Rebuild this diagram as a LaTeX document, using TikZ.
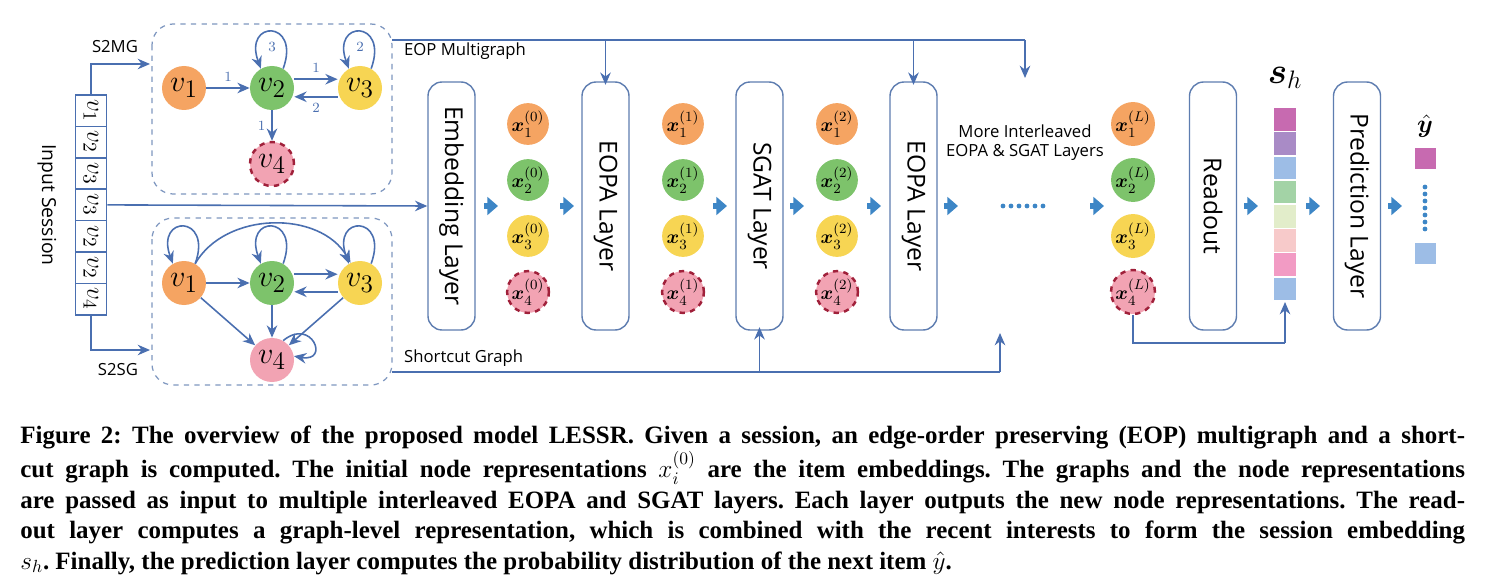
\documentclass[tikz,border=0pt]{standalone}
\usepackage{fontspec}
\usepackage{amsmath,bm}
\newfontfamily\lab{Open Sans}
\newfontfamily\capf{Liberation Serif}
\usetikzlibrary{arrows.meta,shapes.geometric}
\definecolor{cor}{HTML}{F5A462}
\definecolor{cgr}{HTML}{7DC36B}
\definecolor{cye}{HTML}{F7D553}
\definecolor{cpk}{HTML}{F2A3B3}
\definecolor{cdr}{HTML}{A0203A}
\definecolor{ln}{HTML}{4A6FB0}
\definecolor{fat}{HTML}{3D86C6}
\definecolor{bx}{HTML}{5E7DB0}
\definecolor{py}{HTML}{C76AB0}
\definecolor{by}{HTML}{9DBDE6}
\tikzset{
 vn/.style={circle,minimum size=44*0.02cm,inner sep=0pt,font=\fontsize{19}{19}\selectfont},
 xn/.style={circle,minimum size=41*0.02cm,inner sep=0pt,font=\fontsize{11}{11}\selectfont},
 redd/.style={draw=cdr,dashed,line width=1.4pt},
 ed/.style={draw=ln,line width=0.9pt,-{Stealth[length=7pt,width=6pt]}},
 ln/.style={draw=ln,line width=0.9pt},
 lay/.style={draw=bx,rounded corners=8pt,line width=0.8pt,minimum width=47*0.02cm,minimum height=248*0.02cm},
 laytxt/.style={rotate=-90,font=\lab\fontsize{14}{16}\selectfont},
 fa/.style={draw=fat,line width=3.2pt,-{Triangle[length=6pt,width=10pt]}},
 gbox/.style={draw=bx!80,dashed,rounded corners=12pt,line width=0.7pt},
 sm/.style={font=\lab\fontsize{9.5}{11}\selectfont},
 el/.style={font=\fontsize{8}{8}\selectfont,text=ln},
 cell/.style={draw=ln,line width=0.9pt,minimum width=31*0.02cm,minimum height=31.4*0.02cm,inner sep=0pt},
}
\begin{document}
\begin{tikzpicture}[x=0.02cm,y=-0.02cm]
\useasboundingbox[fill=white] (0,0) rectangle (1485,588);
% boxes
\draw[gbox] (152,24) rectangle (392,194);
\draw[gbox] (152,218) rectangle (392,385);
% input session
\foreach \t [count=\i] in {1,2,3,3,2,2,4}{
 \node[cell] (c\i) at (91,95+31.4*\i-15.7) {\rotatebox{-90}{\fontsize{15.5}{15.5}\selectfont$v_{\t}$}};
}
\node[sm,rotate=-90,font=\lab\fontsize{11}{12}\selectfont] (ins) at (47,205) {Input Session};
\coordinate (mg) at (150,64);
\coordinate (sg) at (150,350);
\draw[ed] (c1.north) |- (mg);
\draw[ed] (c7.south) |- (sg);
\node[sm] (s2mg) at (115,47) {S2MG};
\node[sm] (s2sg) at (118,370) {S2SG};
% top graph
\node[vn,fill=cor] (a1) at (184,88) {$v_1$};
\node[vn,fill=cgr] (a2) at (272,88) {$v_2$};
\node[vn,fill=cye] (a3) at (360,88) {$v_3$};
\node[vn,fill=cpk,redd] (a4) at (272,164) {$v_4$};
\draw[ed] (a1) -- node[el,above]{1} (a2);
\draw[ed] ([yshift=5]a2.east) -- node[el,above]{1} ([yshift=5]a3.west);
\draw[ed] ([yshift=-5]a3.west) -- node[el,below]{2} ([yshift=-5]a2.east);
\draw[ed] (a2) -- node[el,left]{1} (a4);
\draw[ed] (a2.60) to[out=70,in=110,looseness=6] node[el,below=2pt]{3} (a2.120);
\draw[ed] (a3.60) to[out=70,in=110,looseness=6] node[el,below=2pt]{2} (a3.120);
% bottom graph
\node[vn,fill=cor] (b1) at (184,283) {$v_1$};
\node[vn,fill=cgr] (b2) at (272,283) {$v_2$};
\node[vn,fill=cye] (b3) at (360,283) {$v_3$};
\node[vn,fill=cpk] (b4) at (272,360) {$v_4$};
\draw[ed] (b1) -- (b2);
\draw[ed] ([yshift=5]b2.east) -- ([yshift=5]b3.west);
\draw[ed] ([yshift=-5]b3.west) -- ([yshift=-5]b2.east);
\draw[ed] (b2) -- (b4);
\draw[ed] (b1) -- (b4);
\draw[ed] (b3) -- (b4);
\draw[ed] (b1.60) to[out=60,in=120,looseness=1] (b3.115);
\draw[ed] (b1.60) to[out=70,in=110,looseness=6] (b1.120);
\draw[ed] (b2.60) to[out=70,in=110,looseness=6] (b2.120);
\draw[ed] (b3.60) to[out=70,in=110,looseness=6] (b3.120);
\draw[ed] (b4.60) to[out=40,in=-10,looseness=5] (b4.10);
% layers
\node[lay] (emb) at (451.5,206) {}; \node[laytxt] at (emb) {Embedding Layer};
\node[lay] (eo1) at (605.5,206) {}; \node[laytxt] at (eo1) {EOPA Layer};
\node[lay] (sga) at (759.5,206) {}; \node[laytxt] at (sga) {SGAT Layer};
\node[lay] (eo2) at (913.5,206) {}; \node[laytxt] at (eo2) {EOPA Layer};
\node[lay] (rd) at (1213,206) {}; \node[laytxt] at (rd) {Readout};
\node[lay] (pr) at (1357,206) {}; \node[laytxt] at (pr) {Prediction Layer};
\draw[ed] (c4.east) -- (emb.west);
% EOP multigraph line
\node[sm,anchor=west] (eopl) at (398,51) {EOP Multigraph};
\node[sm,anchor=west] (scl) at (398,358) {Shortcut Graph};
\coordinate (t0) at (392,40); \coordinate (t1) at (1025,40);
\coordinate (tm) at (1025,78);
\draw[ln] (t0) -- (t1);
\draw[ed] (t1) -- (tm);
\draw[ed] (eo1.north |- t0) -- ([yshift=-2]eo1.north);
\draw[ed] (eo2.north |- t0) -- ([yshift=-2]eo2.north);
\coordinate (u0) at (392,372); \coordinate (u1) at (1000,372);
\coordinate (um) at (1000,333);
\draw[ln] (u0) -- (u1);
\draw[ed] (u1) -- (um);
\draw[ed] (sga.south |- u0) -- ([yshift=2]sga.south);
% circles
\foreach \cx/\sup/\nm in {528/0/p,683/1/q,837/2/r,1133/L/s}{
 \node[xn,fill=cor] (\nm1) at (\cx,124) {$\bm{x}_1^{(\sup)}$};
 \node[xn,fill=cgr] (\nm2) at (\cx,180) {$\bm{x}_2^{(\sup)}$};
 \node[xn,fill=cye] (\nm3) at (\cx,236) {$\bm{x}_3^{(\sup)}$};
 \node[xn,fill=cpk,redd] (\nm4) at (\cx,292) {$\bm{x}_4^{(\sup)}$};
}
% fat arrows
\foreach \xa in {484,560,713,790,867,944,1090,1244,1306,1388}{
 \coordinate (fa\xa) at (\xa,206); \coordinate (fb\xa) at (\xa+14,206);
 \draw[fa] (fa\xa) -- (fb\xa);
}
\node[sm,align=center] (more) at (1025,143) {More Interleaved\\EOPA \& SGAT Layers};
\foreach \dx in {1003,1011,1019,1027,1035,1043}{\fill[fat] (\dx,206) circle (2.4);}
% s_h
\foreach \col [count=\i] in {C76AB0,A98BC6,9DBDE6,A3D3A6,E2EDCA,F7CACA,F29BC4,9DBDE6}{
 \definecolor{tmp}{HTML}{\col}
 \fill[tmp] (1274,84+24.2*\i) rectangle (1296,84+24.2*\i+22.5);
}
\coordinate (shb) at (1285,302);
\node[font=\fontsize{20}{20}\selectfont] (sh) at (1285,78) {$\bm{s}_h$};
\draw[ln] (s4.south) |- (1285,343);
\draw[ed] (1285,343) -- (shb);
% y hat
\node[font=\fontsize{15}{15}\selectfont] (yh) at (1425,126) {$\hat{\bm{y}}$};
\fill[py] (1415,148) rectangle (1436,169);
\fill[by] (1415,243) rectangle (1436,264);
\foreach \yy in {187,194,201,208,215,222,229}{\fill[fat] (1425,\yy) circle (2.4);}
% caption
\node[anchor=north west,text width=28.9cm,align=justify,inner sep=0pt,
 font=\capf\bfseries\fontsize{14.2}{17.4}\selectfont\frenchspacing] (cap) at (20,426) {Figure 2: The overview of the proposed model LESSR. Given a session, an edge-order preserving (EOP) multigraph and a short-\linebreak cut graph is computed. The initial node representations $x_i^{(0)}$ are the item embeddings. The graphs and the node representations\linebreak are passed as input to multiple interleaved EOPA and SGAT layers. Each layer outputs the new node representations. The read-\linebreak out layer computes a graph-level representation, which is combined with the recent interests to form the session embedding\linebreak $s_h$. Finally, the prediction layer computes the probability distribution of the next item $\hat{y}$.\par};
\end{tikzpicture}
\end{document}
